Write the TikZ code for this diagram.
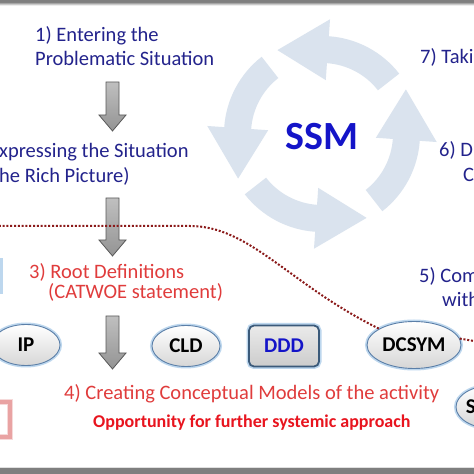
\documentclass[tikz,border=0pt]{standalone}
\usepackage{fontspec}
\setmainfont{Carlito}
\usetikzlibrary{calc,shapes.geometric}
\definecolor{navy}{HTML}{23238C}
\definecolor{rootred}{HTML}{E03C3C}
\definecolor{oppred}{HTML}{E8141E}
\definecolor{ssmblue}{HTML}{1414C8}
\definecolor{cycfill}{HTML}{DAE3EE}
\definecolor{dotred}{HTML}{8B1A1A}
\definecolor{barcol}{HTML}{7F7F7F}
\definecolor{glow}{HTML}{BDD7EE}
\definecolor{ovalline}{HTML}{5B7FA8}
\definecolor{dddline}{HTML}{3B5A7A}
\definecolor{arrfill}{HTML}{A6A6A6}
\definecolor{arrline}{HTML}{595959}
\definecolor{pinkbox}{HTML}{E9A3A3}
\tikzset{
  stepblue/.style={text=navy, anchor=base west, inner sep=0pt,
    font=\fontsize{20.5}{24}\selectfont},
  stepred/.style={stepblue, text=rootred},
  oval/.style={ellipse, draw=ovalline, line width=0.9pt, top color=white,
    bottom color=black!16, preaction={draw=glow, line width=4pt},
    inner sep=0pt, minimum width=68pt, minimum height=41pt,
    font=\bfseries\fontsize{21}{21}\selectfont},
  dddbox/.style={rectangle, rounded corners=5pt, draw=dddline, line width=1.8pt,
    top color=black!8, bottom color=black!20, preaction={draw=glow, line width=5pt},
    minimum width=70pt, minimum height=41pt, text=ssmblue,
    font=\bfseries\fontsize{21}{21}\selectfont},
  grayarrow/.style={draw=arrline, top color=black!25, bottom color=black!42, line width=0.8pt},
  dots/.style={dotred, line width=2pt, dash pattern=on 2pt off 1.8pt},
  cycarrow/.style={fill=cycfill},
}
% block arrow pointing down from #1 to #2
\newcommand{\blockarr}[2]{%
  \draw[grayarrow] ($(#1)+(-6.5,0)$) -- ($(#2)+(-6.5,16)$) -- ($(#2)+(-13.5,16)$)
    -- (#2) -- ($(#2)+(13.5,16)$) -- ($(#2)+(6.5,16)$) -- ($(#1)+(6.5,0)$) -- cycle;}

\begin{document}
\begin{tikzpicture}[x=1pt, y=1pt]
  \useasboundingbox (0,0) rectangle (474,474);
  \fill[white] (0,0) rectangle (474,474);
  \clip (0,0) rectangle (474,474);

  % frame bars
  \fill[barcol] (0,471) rectangle (474,474);
  \shade[top color=black!35, bottom color=white] (0,468.5) rectangle (474,471);
  \fill[black!12] (0,5.7) rectangle (474,6.8);
  \fill[barcol] (0,0) rectangle (474,5.7);

  % SSM cycle
  \begin{scope}[shift={(322,340)}]
    \foreach \t in {-52,38,128,218}{
      \pgfmathsetmacro\b{\t+48}
      \pgfmathsetmacro\p{\t+80}
      \fill[cycarrow] (\t:98) arc[start angle=\t, end angle=\b, radius=98pt]
        -- (\b:115) -- (\p:95) -- (\b:54) -- (\b:71)
        arc[start angle=\b, end angle=\t, radius=71pt] -- cycle;
    }
  \end{scope}
  \node[font=\bfseries\fontsize{40}{40}\selectfont, text=ssmblue] (ssm) at (322,337) {SSM};

  % steps
  \node[stepblue] (s1a) at (35,432) {1) Entering the};
  \node[stepblue] (s1b) at (35,408) {Problematic Situation};
  \node[stepblue] (s2a) at (-1,316) {xpressing the Situation};
  \node[stepblue] (s2b) at (-1,291) {he Rich Picture)};
  \node[stepblue] (s7) at (420,410) {7) Taki};
  \node[stepblue] (s6a) at (439,317) {6) D};
  \node[stepblue] (s6b) at (463,292) {C};
  \node[stepblue] (s5a) at (419,191) {5) Com};
  \node[stepblue] (s5b) at (442,167) {with};
  \node[stepred] (s3a) at (29,195) {3) Root Definitions};
  \node[stepred] (s3b) at (48,175) {(CATWOE statement)};
  \node[stepred] (s4) at (64,74) {4) Creating Conceptual Models of the activity};
  \node[stepred, text=oppred, font=\bfseries\fontsize{18}{18}\selectfont] (opp) at (93,46)
    {Opportunity for further systemic approach};

  % boxes cut by the left edge
  \node[draw=glow, line width=3pt, minimum width=43pt, minimum height=33pt] (rpbox) at (-20,197.5) {};
  \node[draw=pinkbox, line width=3.5pt, preaction={draw=pinkbox!40, line width=6pt},
    minimum width=60pt, minimum height=35pt] (pkbox) at (-20,54.5) {};

  % tools
  \node[oval] (ip) at (26,129) {IP};
  \node[oval] (cld) at (186,128) {CLD};
  \node[dddbox] (ddd) at (284,128) {DDD};
  \node[oval, minimum width=94pt, minimum height=47pt] (dcsym) at (414,129) {DCSYM};
  \node[oval, minimum width=72pt, minimum height=43pt] (sim) at (492,67) {};
  \node[anchor=west, inner sep=0pt, font=\bfseries\fontsize{21}{21}\selectfont] (simtxt)
    at ($(sim.west)+(10,0)$) {S};

  % gray arrows
  \coordinate (a1) at (112.5,392);
  \coordinate (a1t) at (112.5,343);
  \coordinate (a2) at (112.5,276);
  \coordinate (a2t) at (112.5,218);
  \coordinate (a3) at (112.5,158);
  \coordinate (a3t) at (112.5,105);
  \blockarr{a1}{a1t}
  \blockarr{a2}{a2t}
  \blockarr{a3}{a3t}

  % dotted border line
  \coordinate (dotL) at (-5,248);
  \coordinate (dotR) at (480,132);
  \draw[dots] (dotL) -- (190,248) .. controls (250,248) and (290,189) .. (dcsym.155);
  \draw[dots] (dcsym.8) -- (dotR);
\end{tikzpicture}
\end{document}
